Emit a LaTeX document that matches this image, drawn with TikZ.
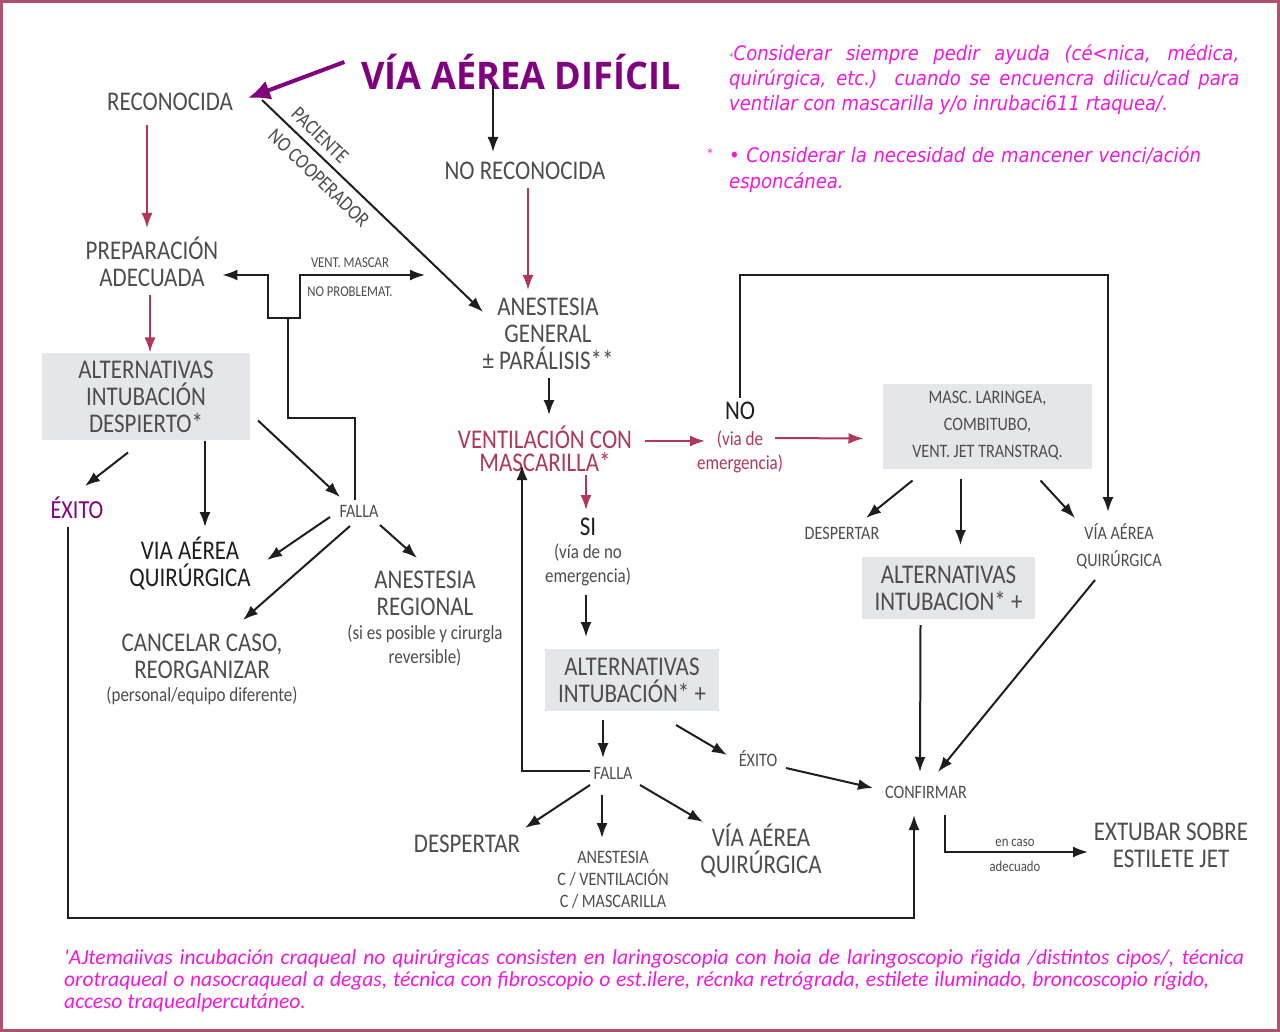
\documentclass[tikz,border=0pt]{standalone}
\usepackage{fontspec}
\setmainfont{Carlito}[FakeStretch=0.85]
\newfontfamily\titlefont{Open Sans}[FakeStretch=0.95]
\newfontfamily\notefont{DejaVu Sans}[FakeStretch=0.9]
\newfontfamily\footfont{Carlito}
\usetikzlibrary{arrows.meta}

\definecolor{txtgray}{HTML}{4D4D4D}
\definecolor{darkline}{HTML}{1E1E1E}
\definecolor{boxgray}{HTML}{E5E6EA}
\definecolor{crimson}{HTML}{B0365A}
\definecolor{titlepurple}{HTML}{800080}
\definecolor{notepink}{HTML}{F218DC}
\definecolor{framecol}{HTML}{B0506E}

\newcommand{\fbig}{\fontsize{27}{27}\selectfont}
\newcommand{\fmid}{\fontsize{20}{24}\selectfont}
\newcommand{\fsml}{\fontsize{19}{27}\selectfont}
\newcommand{\ftny}{\fontsize{15}{18}\selectfont}

\tikzset{
  big/.style={font=\fbig, align=center},
  mid/.style={font=\fmid, align=center},
  sml/.style={font=\fsml, align=center},
  tny/.style={font=\ftny},
  gbox/.style={big, fill=boxgray},
  line/.style={line width=2pt, draw=darkline},
  arr/.style={line, -{Latex[length=15pt,width=11pt]}},
  rarr/.style={arr, draw=crimson},
  parr/.style={-{Latex[length=22pt,width=20pt]}, line width=4pt, draw=titlepurple},
}

\begin{document}
\begin{tikzpicture}[x=1pt,y=-1pt, every node/.style={inner sep=1pt, text=txtgray}]
\useasboundingbox (0,0) rectangle (1280,1032);
\fill[white] (0,0) rectangle (1280,1032);
\draw[framecol, line width=3pt] (1.5,1.5) rectangle (1278.5,1030.5);

% titulo y primer nivel
\node[text=titlepurple, font=\titlefont\bfseries\fontsize{38}{38}\selectfont] (title) at (521,72) {VÍA AÉREA DIFÍCIL};
\node[big] (reco) at (170,102) {RECONOCIDA};
\node[big] (noreco) at (525,171) {NO RECONOCIDA};

% rama reconocida
\node[big] (prep) at (152,262) {PREPARACIÓN\\ADECUADA};
\node[gbox, minimum width=208pt, minimum height=87pt] (altdesp) at (146,396.5) {ALTERNATIVAS\\INTUBACIÓN\\DESPIERTO*};
\node[big, text=titlepurple, font=\fontsize{26}{26}\selectfont] (exito) at (77,508) {ÉXITO};
\node[big, text=darkline] (vaql) at (190,564) {VIA AÉREA\\QUIRÚRGICA};
\node[sml] (falla) at (359,511) {FALLA};
\node[big] (cancel) at (202,656) {CANCELAR CASO,\\REORGANIZAR};
\node[mid] (cancelnote) at (202,696) {(personal/equipo diferente)};
\node[big] (anreg) at (425,593) {ANESTESIA\\REGIONAL};
\node[mid] (anregnote) at (425,646) {(si es posible y cirurgla\\reversible)};
\node[tny] (ventmas) at (350,263) {VENT. MASCAR};
\node[tny] (noprob) at (350,292) {NO PROBLEMAT.};

% rama no reconocida
\node[big] (angen) at (548,334) {ANESTESIA\\GENERAL\\± PARÁLISIS**};
\node[big, text=crimson, font=\fontsize{27}{23}\selectfont] (vent) at (545,449) {VENTILACIÓN CON\\MASCARILLA*};
\node[big, text=darkline] (no) at (740,411) {NO};
\node[mid, text=crimson] (noem) at (740,452) {(via de\\emergencia)};
\node[big, text=darkline] (si) at (588,527) {SI};
\node[mid] (siem) at (588,565) {(vía de no\\emergencia)};
\node[gbox, minimum width=174pt, minimum height=62pt] (alt2) at (632,680) {ALTERNATIVAS\\INTUBACIÓN* +};
\node[sml] (falla2) at (613,773) {FALLA};
\node[sml] (exito2) at (758,759) {ÉXITO};
\node[big] (desp2) at (467,844) {DESPERTAR};
\node[sml, font=\fontsize{19}{22}\selectfont] (anvm) at (613,880) {ANESTESIA\\C / VENTILACIÓN\\C / MASCARILLA};
\node[big] (vaqb) at (761,851) {VÍA AÉREA\\QUIRÚRGICA};

% via de emergencia
\node[gbox, sml, minimum width=209pt, minimum height=85pt] (masc) at (987.5,426) {MASC. LARINGEA,\\COMBITUBO,\\VENT. JET TRANSTRAQ.};
\node[sml] (desp3) at (842,533) {DESPERTAR};
\node[gbox, minimum width=173pt, minimum height=62pt] (alt3) at (948.5,588) {ALTERNATIVAS\\INTUBACION* +};
\node[sml] (vaqr) at (1119,546) {VÍA AÉREA\\QUIRÚRGICA};
\node[sml] (confirm) at (926,792) {CONFIRMAR};
\node[big] (extub) at (1171,845) {EXTUBAR SOBRE\\ESTILETE JET};
\node[tny] (encaso) at (1015,843) {en caso};
\node[tny] (adec) at (1015,866) {adecuado};

\coordinate (ubot) at (288,318);
\coordinate (ventok) at (425,275);

\draw[parr] ([shift={(-16,-10)}]title.west) -- ([shift={(14,-4)}]reco.east);
\draw[arr] ([shift={(-28,14)}]title.center) -- ([shift={(-32,-19)}]noreco.center);
\draw[rarr] ([shift={(-23,23)}]reco.center) -- ([shift={(-5,-34)}]prep.center);
\draw[rarr] ([shift={(-2,33)}]prep.center) -- ([shift={(4,-44)}]altdesp.center);
\draw[line] ([shift={(-4,-11)}]falla.center) -- ++(0,-82) -| (ubot);
\draw[arr] (ubot) -- ++(-20,0) |- ([shift={(3,13)}]prep.east);
\draw[arr] (ubot) -- ++(12,0) |- (ventok);
\draw[arr] ([shift={(92,-2)}]reco.center) -- node[pos=.216, above, sloped, inner sep=7pt, font=\fontsize{21}{21}\selectfont]{PACIENTE} node[pos=.31, below, sloped, inner sep=9pt, font=\fontsize{21}{21}\selectfont]{NO COOPERADOR} ([shift={(-65,-22)}]angen.center);
\draw[arr] ([shift={(-18,56)}]altdesp.center) -- ([shift={(8,-22)}]exito.center);
\draw[arr] ([shift={(59,44)}]altdesp.center) -- ([shift={(15,-37)}]vaql.center);
\draw[arr] ([shift={(112,24)}]altdesp.center) -- ([shift={(-19,-14)}]falla.center);
\draw[arr] ([shift={(-29,6)}]falla.center) -- ([shift={(77,-4)}]vaql.center);
\draw[arr] ([shift={(-9,15)}]falla.center) -- ([shift={(41,-36)}]cancel.center);
\draw[arr] ([shift={(21,14)}]falla.center) -- ([shift={(-8,-35)}]anreg.center);
\draw[arr] ([shift={(-9,19)}]exito.center) -- ++(0,391) -| ([shift={(-12,23)}]confirm.center);

\draw[rarr] ([shift={(3,17)}]noreco.center) -- ([shift={(-20,-44)}]angen.center);
\draw[arr] ([shift={(1,44)}]angen.center) -- ([shift={(4,-34)}]vent.center);
\draw[rarr] ([shift={(100,-8)}]vent.center) -- ([shift={(-35,-11)}]noem.center);
\draw[rarr] ([shift={(35,-14)}]noem.center) -- ([shift={(-124,12.5)}]masc.center);
\draw[arr] ([shift={(0,-13)}]no.center) -- ++(0,-123) -| ([shift={(-11,-34)}]vaqr.center);
\draw[rarr] ([shift={(41,26)}]vent.center) -- ([shift={(-2,-17)}]si.center);
\draw[arr] ([shift={(-2,30)}]siem.center) -- ([shift={(-46,-43)}]alt2.center);
\draw[arr] ([shift={(-29,40)}]alt2.center) -- ([shift={(-10,-15)}]falla2.center);
\draw[arr] ([shift={(-23,-2)}]falla2.center) -| ([shift={(-23,16)}]vent.center);
\draw[arr] ([shift={(44,45)}]alt2.center) -- ([shift={(-31,-4)}]exito2.center);
\draw[arr] ([shift={(28,9)}]exito2.center) -- ([shift={(-53,-4)}]confirm.center);
\draw[arr] ([shift={(-23,12)}]falla2.center) -- ([shift={(58,-16)}]desp2.center);
\draw[arr] ([shift={(-11,22)}]falla2.center) -- ([shift={(-11,-42)}]anvm.center);
\draw[arr] ([shift={(27,12)}]falla2.center) -- ([shift={(-58,-29)}]vaqb.center);
\draw[arr] ([shift={(-75,54.5)}]masc.center) -- ([shift={(24,-15)}]desp3.center);
\draw[arr] ([shift={(-27,52.5)}]masc.center) -- ([shift={(12,-43)}]alt3.center);
\draw[arr] ([shift={(53,54.5)}]masc.center) -- ([shift={(-44,-28)}]vaqr.center);
\draw[arr] ([shift={(-28,37)}]alt3.center) -- ([shift={(-6,-20)}]confirm.center);
\draw[arr] ([shift={(-24,34)}]vaqr.center) -- ([shift={(12,-20)}]confirm.center);
\draw[arr] ([shift={(19,23)}]confirm.center) |- ([shift={(-83,7)}]extub.center);

% notas
\node[anchor=north west, text width=510pt, align=justify, text=notepink, font=\notefont\itshape\fontsize{20}{25}\selectfont] (ayuda) at (728,43) {{\color{gray}\fontsize{10}{10}\selectfont*}Considerar siempre pedir ayuda (cé<nica, médica,\linebreak quirúrgica, etc.) cuando se encuencra dilicu/cad para\linebreak ventilar con mascarilla y/o inrubaci611 rtaquea/.};
\node[text=notepink, font=\notefont\fontsize{12}{12}\selectfont] (star) at (710,153) {*};
\node[anchor=north west, text width=520pt, align=left, text=notepink, font=\notefont\itshape\fontsize{20}{26}\selectfont] (espont) at (728,145) {• Considerar la necesidad de mancener venci/ación\\esponcánea.};
\node[anchor=north west, align=left, text=notepink, font=\footfont\itshape\fontsize{21.5}{22}\selectfont] (altnota) at (63,948) {\makebox[1180pt][s]{'AJtemaiivas incubación craqueal no quirúrgicas consisten en laringoscopia con hoia de laringoscopio ŕigida /distintos cipos/, técnica}\\\makebox[1145pt][s]{orotraqueal o nasocraqueal a degas, técnica con fibroscopio o est.ilere, récnka retrógrada, estilete iluminado, broncoscopio rígido,}\\acceso traquealpercutáneo.};
\end{tikzpicture}
\end{document}
